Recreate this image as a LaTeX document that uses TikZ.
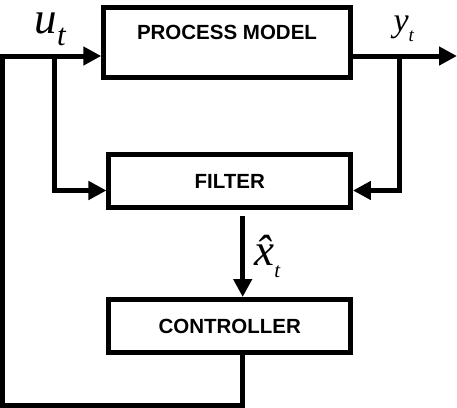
\documentclass[tikz,border=0pt]{standalone}
\usepackage{fontspec}
\setmainfont{Liberation Serif}
\setsansfont{Liberation Sans}
\usetikzlibrary{arrows.meta,positioning}

\begin{document}
\begin{tikzpicture}[x=1pt,y=-1pt,>={Triangle[length=18pt,width=18pt]},
                    line width=5pt,node distance=138.5pt]
  \tikzstyle{block}=[draw,rectangle,inner sep=0pt,minimum width=241.5pt,
                     minimum height=53pt,
                     font=\sffamily\bfseries\fontsize{20.5}{21}\selectfont]
  \tikzstyle{sym}=[inner sep=0pt,anchor=base west,font=\itshape]

  \useasboundingbox (0,0) rectangle (457,407);

  \node[block,minimum width=246.5pt,minimum height=70pt,
        text height=14.5pt,text depth=21.5pt] (proc) at (227,42.5) {PROCESS MODEL};
  \node[block]         (filt) [below of=proc,xshift=2.7pt] {FILTER};
  \node[block]         (ctrl) [below of=filt,node distance=145pt] {CONTROLLER};

  \coordinate (ju)   at (54.5,56);
  \coordinate (jy)   at (399.5,56);
  \coordinate (out)  at (457,56);
  \coordinate (loop) at (2.5,405);

  \draw[->] ([xshift=13pt]ctrl.south) |- (loop) |- ([yshift=-13.5pt]proc.west);
  \draw[->] (ju) |- ([yshift=-9.5pt]filt.west);
  \draw[->] ([yshift=-13.5pt]proc.east) -- (out);
  \draw[->] (jy) |- ([yshift=-9.5pt]filt.east);
  \draw[->] ([xshift=13pt,yshift=-6pt]filt.south) -- ([xshift=13pt]ctrl.north);

  \node[sym,text height=21pt] (ulab) at (32,33)
    {\fontsize{45}{45}\selectfont u\raisebox{-12pt}{\fontsize{31}{31}\selectfont t}};
  \node[sym,text height=16pt] (ylab) at (391,31)
    {\fontsize{34}{34}\selectfont y\raisebox{-10pt}{\fontsize{19}{19}\selectfont t}};
  \node[sym] (xlab) at (252,265)
    {\fontsize{45}{45}\selectfont\^{x}\raisebox{-12pt}{\fontsize{21}{21}\selectfont t}};
\end{tikzpicture}
\end{document}
